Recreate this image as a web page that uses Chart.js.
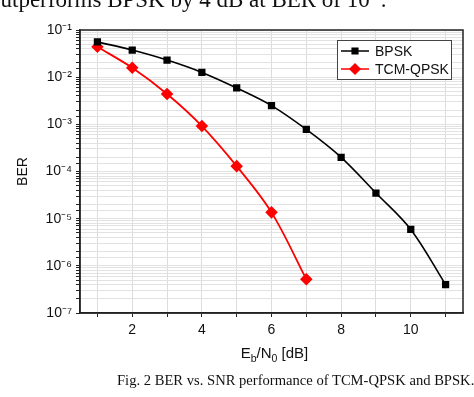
<!DOCTYPE html>
<html>
<head>
<meta charset="utf-8">
<script src="https://cdn.jsdelivr.net/npm/chart.js@4.4.1/dist/chart.umd.min.js"></script>
<style>
  html, body { margin: 0; padding: 0; background: #fff; overflow: hidden; }
  #wrap { position: relative; width: 474px; height: 397px; }
  #c { position: absolute; left: 0; top: 0; }
  .serif { position: absolute; font-family: "Liberation Serif", "Times New Roman", serif; color: #111; white-space: nowrap; }
  #head { left: -11px; top: -14px; font-size: 23px; }
  #head sup { font-size: 13px; }
  #cap { left: 117px; top: 372px; font-size: 14.6px; }
</style>
</head>
<body>
<div id="wrap">
  <canvas id="c" width="474" height="397"></canvas>
  <div id="head" class="serif">outperforms BPSK by 4 dB at BER of 10<sup>-6</sup>.</div>
  <div id="cap" class="serif">Fig. 2 BER vs. SNR performance of TCM-QPSK and BPSK.</div>
</div>
<script>
var ebn0Bpsk = [1, 2, 3, 4, 5, 6, 7, 8, 9, 10, 11];
var berBpsk = [0.056, 0.0375, 0.023, 0.0126, 0.0059, 0.0025, 0.00078, 0.0002, 0.000035, 0.0000059, 0.0000004];
var ebn0Tcm = [1, 2, 3, 4, 5, 6, 7];
var berTcm = [0.044, 0.0158, 0.0044, 0.00092, 0.00013, 0.0000136, 0.00000052];
var xTicks = [1, 2, 3, 4, 5, 6, 7, 8, 9, 10, 11];
var xTickLabels = [2, 4, 6, 8, 10];
var supDigits = { '-': '\u207B', '0': '\u2070', '1': '\u00B9', '2': '\u00B2', '3': '\u00B3', '4': '\u2074', '5': '\u2075', '6': '\u2076', '7': '\u2077', '8': '\u2078', '9': '\u2079' };

function toPoints(xs, ys) {
    return xs.map(function (x, i) { return { x: x, y: ys[i] }; });
}

function powLabel(v) {
    var e = Math.round(Math.log10(v));
    if (Math.abs(Math.log10(v) - e) > 1e-6) return '';
    var s = String(e).split('').map(function (ch) { return supDigits[ch]; }).join('');
    return '10' + s;
}

// frame, x title with subscripts, legend box
var extras = {
    id: 'extras',
    afterDraw: function (chart) {
        var ctx = chart.ctx, a = chart.chartArea;
        ctx.save();
        ctx.strokeStyle = '#222';
        ctx.lineWidth = 1.5;
        ctx.strokeRect(a.left, a.top, a.right - a.left, a.bottom - a.top);

        // x axis title: E_b/N_0 [dB]
        var parts = [['E', 0, 15], ['b', 4, 10.5], ['/N', 0, 15], ['0', 4, 10.5], [' [dB]', 0, 15]];
        var w = 0;
        parts.forEach(function (p) { ctx.font = p[2] + 'px "Liberation Sans", Arial'; w += ctx.measureText(p[0]).width; });
        var x = (a.left + a.right) / 2 - w / 2 + 3, y = 358;
        ctx.fillStyle = '#111';
        ctx.textBaseline = 'alphabetic';
        parts.forEach(function (p) {
            ctx.font = p[2] + 'px "Liberation Sans", Arial';
            ctx.fillText(p[0], x, y + p[1]);
            x += ctx.measureText(p[0]).width;
        });

        // legend
        var lx = 337, ly = 40, lw = 114, lh = 39;
        ctx.fillStyle = '#fff';
        ctx.fillRect(lx, ly, lw, lh);
        ctx.strokeStyle = '#444';
        ctx.lineWidth = 1;
        ctx.strokeRect(lx + 0.5, ly + 0.5, lw, lh);
        chart.data.datasets.forEach(function (ds, i) {
            var yy = ly + 11 + i * 18;
            ctx.strokeStyle = ds.borderColor;
            ctx.lineWidth = 1.5;
            ctx.beginPath();
            ctx.moveTo(lx + 4, yy);
            ctx.lineTo(lx + 32, yy);
            ctx.stroke();
            Chart.helpers.drawPoint(ctx, { pointStyle: ds.pointStyle, radius: ds.pointRadius, borderWidth: 1 }, lx + 18, yy);
            ctx.fillStyle = ds.borderColor;
            ctx.fill();
            ctx.fillStyle = '#111';
            ctx.font = '14px "Liberation Sans", Arial';
            ctx.textBaseline = 'middle';
            ctx.fillText(ds.label, lx + 38, yy + 1);
        });
        ctx.restore();
    }
};

new Chart(document.getElementById('c'), {
    type: 'line',
    data: {
        datasets: [{
            label: 'BPSK',
            data: toPoints(ebn0Bpsk, berBpsk),
            borderColor: '#000',
            backgroundColor: '#000',
            borderWidth: 1.6,
            pointStyle: 'rect',
            pointRadius: 4,
            tension: 0.35
        }, {
            label: 'TCM-QPSK',
            data: toPoints(ebn0Tcm, berTcm),
            borderColor: '#f00',
            backgroundColor: '#f00',
            borderWidth: 1.8,
            pointStyle: 'rectRot',
            pointRadius: 5,
            tension: 0.35
        }]
    },
    options: {
        responsive: false,
        animation: false,
        layout: { padding: { left: 15, right: 11, top: 30, bottom: 0 } },
        plugins: { legend: { display: false }, tooltip: { enabled: false } },
        scales: {
            x: {
                type: 'linear',
                min: 0.5,
                max: 11.5,
                afterFit: function (s) { s.height = 84; },
                afterBuildTicks: function (s) { s.ticks = xTicks.map(function (v) { return { value: v }; }); },
                ticks: {
                    autoSkip: false,
                    maxRotation: 0,
                    padding: 5,
                    color: '#111',
                    font: { family: '"Liberation Sans", Arial', size: 14 },
                    callback: function (v) { return xTickLabels.indexOf(Math.round(v)) >= 0 ? String(Math.round(v)) : ''; }
                },
                grid: { color: '#dcdcdc', tickColor: '#222', tickLength: 4 },
                border: { color: '#222', width: 1.5 }
            },
            y: {
                type: 'logarithmic',
                min: 1e-7,
                max: 1e-1,
                afterFit: function (s) { s.width = 65; },
                ticks: {
                    autoSkip: false,
                    padding: 4,
                    color: '#111',
                    font: { family: '"Liberation Sans", Arial', size: 14 },
                    callback: function (v) { return powLabel(v); }
                },
                grid: { color: '#e2e2e2', tickColor: '#222', tickLength: 4 },
                border: { color: '#222', width: 1.5 },
                title: {
                    display: true,
                    text: 'BER',
                    color: '#111',
                    font: { family: '"Liberation Sans", Arial', size: 14 },
                    padding: { top: 0, bottom: 0 }
                }
            }
        }
    },
    plugins: [extras]
});
</script>
</body>
</html>
